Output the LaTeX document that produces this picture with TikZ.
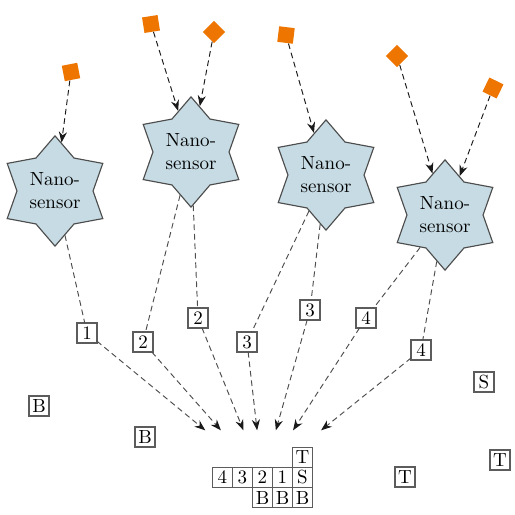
\documentclass[tikz,border=0pt]{standalone}
\usepackage{xcolor}
\usepackage{tikz}
\usetikzlibrary{
  positioning, arrows.meta, shapes.geometric, fit
}
\definecolor{inkP}{HTML}{1A1A1A}
\definecolor{inkS}{HTML}{4D4D4D}
\definecolor{inkM}{HTML}{5C5C5C}
\definecolor{sensorFill}{HTML}{C6DBE3}
\definecolor{packetOrange}{HTML}{EE7600}
\tikzset{
  sensorstar/.style={star, star points=6, star point ratio=1.45,
    draw=inkS, line width=0.6pt, fill=sensorFill, align=center,
    minimum size=2.04cm, inner sep=0pt},
  packet/.style={rectangle, fill=packetOrange, minimum size=0.29cm,
    inner sep=0pt},
  seqbox/.style={rectangle, draw=inkM, line width=0.6pt, fill=white,
    minimum size=0.37cm, inner sep=1pt, outer sep=0pt},
  feedarrow/.style={-{Stealth[length=2mm, width=1.5mm, color=inkP]},
    inkP, dash pattern=on 3pt off 2pt, line width=0.5pt},
  linkarrow/.style={-{Stealth[length=2mm, width=1.5mm, color=inkP]},
    inkS, dash pattern=on 3pt off 2pt, line width=0.5pt},
}

\begin{document}
\begin{tikzpicture}[x=0.0185cm, y=-0.0185cm, node distance=0pt]
    \useasboundingbox (0,0) rectangle (515,515);
    % nano-sensors
    \node[sensorstar] (ns1) at (55,191) {Nano-\\sensor};
    \node[sensorstar] (ns2) at (191,152) {Nano-\\sensor};
    \node[sensorstar] (ns3) at (326,175) {Nano-\\sensor};
    \node[sensorstar] (ns4) at (445,215) {Nano-\\sensor};
    % incoming packets
    \node[packet, rotate=11] (p1) at (71,72) {};
    \node[packet, rotate=9] (p2) at (151,24) {};
    \node[packet, rotate=45] (p3) at (214,32) {};
    \node[packet, rotate=-7] (p4) at (286,35) {};
    \node[packet, rotate=45] (p5) at (397,56) {};
    \node[packet, rotate=-26] (p6) at (493,88) {};
    \draw[feedarrow] (p1) -- (ns1);
    \draw[feedarrow] (p2) -- (ns2);
    \draw[feedarrow] (p3) -- (ns2);
    \draw[feedarrow] (p4) -- (ns3);
    \draw[feedarrow] (p5) -- (ns4);
    \draw[feedarrow] (p6) -- (ns4);
    % queue at the sink
    \node[seqbox] (qS) at (302.5,477.5) {S};
    \node[seqbox, left=of qS] (q1) {1};
    \node[seqbox, left=of q1] (q2) {2};
    \node[seqbox, left=of q2] (q3) {3};
    \node[seqbox, left=of q3] (q4) {4};
    \node[seqbox, above=of qS] (qT) {T};
    \node[seqbox, below=of qS] (qBa) {B};
    \node[seqbox, below=of q1] (qBb) {B};
    \node[seqbox, below=of q2] (qBc) {B};
    \node[fit=(qT)(q4)(qBa), inner sep=0.31cm] (sink) {};
    % sequence labels
    \node[seqbox] (l1) at (87,333) {1};
    \node[seqbox] (l2a) at (143,342) {2};
    \node[seqbox] (l2b) at (198,318) {2};
    \node[seqbox] (l3a) at (247,342) {3};
    \node[seqbox] (l3b) at (310,310) {3};
    \node[seqbox] (l4a) at (366,318) {4};
    \node[seqbox] (l4b) at (421,350) {4};
    % loose symbols
    \node[seqbox] (fB1) at (39,406) {B};
    \node[seqbox] (fB2) at (145,437) {B};
    \node[seqbox] (fS1) at (484,382) {S};
    \node[seqbox] (fT1) at (405,477) {T};
    \node[seqbox] (fT2) at (500,460) {T};
    \foreach \s/\l in {ns1/l1, ns2/l2a, ns2/l2b, ns3/l3a, ns3/l3b,
                       ns4/l4a, ns4/l4b}
      \draw[linkarrow] (\s) -- (\l) -- (sink);
\end{tikzpicture}
\end{document}
